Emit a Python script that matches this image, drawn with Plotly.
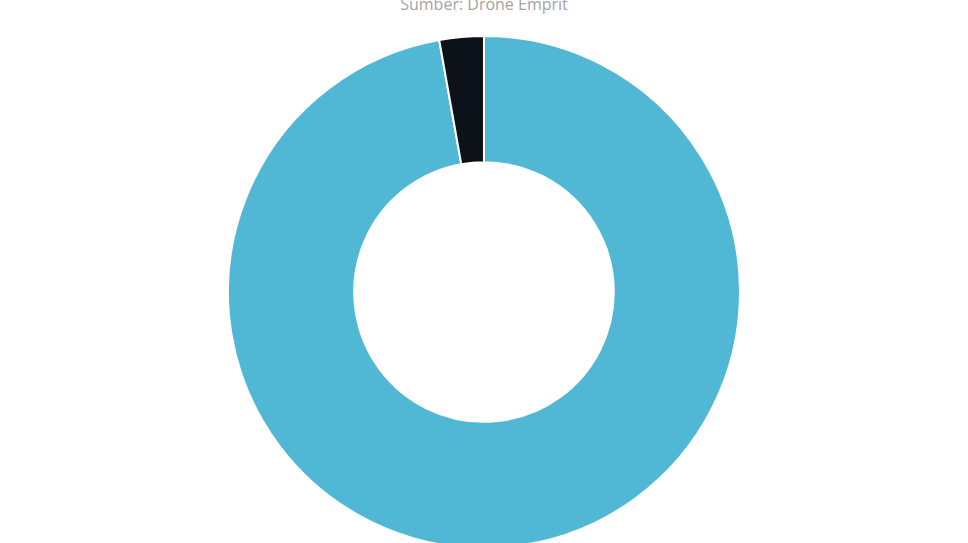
import plotly.graph_objs as go

labels = ['Positif', 'Negatif']
values = [97.2, 2.8]
colors = ['#50b7d4', '#0d111a']
subtitle = 'Sumber: Drone Emprit'

W, H = 968, 548

donut = go.Pie(
    labels=labels,
    values=values,
    hole=0.507,
    sort=False,
    direction='clockwise',
    rotation=0,
    textinfo='none',
    hoverinfo='label+percent',
    marker=dict(colors=colors, line=dict(color='white', width=2)),
)

fig = go.Figure(
    data=[donut],
    layout=go.Layout(
        width=W,
        height=H,
        showlegend=False,
        paper_bgcolor='white',
        margin=dict(l=0, r=0, t=36, b=0),
        title=dict(
            text=subtitle,
            x=0.5,
            xanchor='center',
            y=1 - 4 / H,
            yanchor='middle',
            font=dict(family='Open Sans', size=16, color='#a3a3a3'),
        ),
    ))

# drop the default body margin so the chart sits at the page corner
fig.write_html(
    'out.html',
    config={'displayModeBar': False},
    post_script="document.body.style.margin='0';document.body.style.overflow='hidden';",
)
